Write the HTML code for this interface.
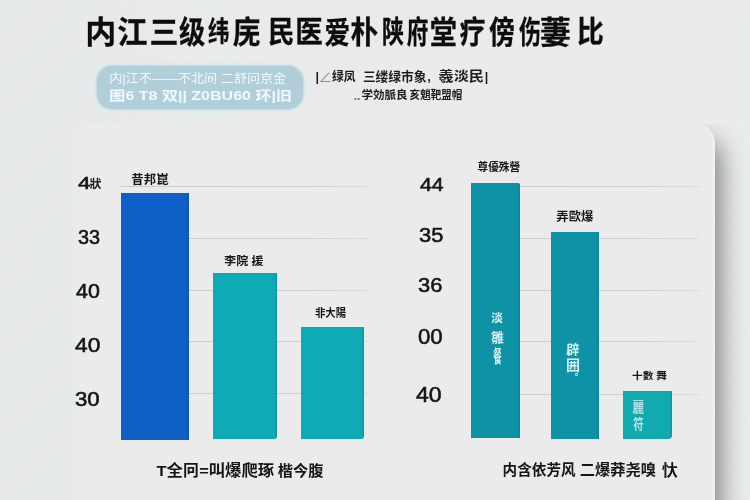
<!DOCTYPE html>
<html lang="zh">
<head>
<meta charset="utf-8">
<title>Bar chart comparison</title>
<style>
html,body{margin:0;padding:0}
body{width:750px;height:500px;overflow:hidden;position:relative;
  font-family:"Liberation Sans",sans-serif;
  background:repeating-linear-gradient(135deg,rgba(255,255,255,.08) 0,rgba(255,255,255,.08) 1px,rgba(255,255,255,0) 2px,rgba(255,255,255,0) 9px),linear-gradient(90deg,#e6e9ea 0%,#e9ebeb 50%,#e9ecec 100%);}
.card{position:absolute;left:72px;top:124px;width:643px;height:420px;border-radius:20px;
  background:linear-gradient(90deg,#e9ebeb 0,#ebebeb 10px);box-shadow:6px 16px 24px rgba(80,86,86,.70),inset -3px 0 2px -1px #f2f2f2;clip-path:inset(0 -60px 0 0 round 20px 0 0 0)}
.pill{position:absolute;left:96.5px;top:66px;width:206px;height:43px;border-radius:15px;background:#b1cfda;box-shadow:0 0 2px 1px rgba(177,207,218,.7)}
.bar{position:absolute;box-shadow:inset -2px 0 2px -1px rgba(0,40,60,.18)}
.grid{position:absolute;height:1px;background:linear-gradient(90deg,#cbcece 0,#cdd0d0 75%,#dcdede 100%)}
.num{position:absolute;color:#141414;white-space:nowrap;line-height:1.15;-webkit-text-stroke:.55px #141414;transform-origin:0 0;will-change:transform}
svg.ink{position:absolute;left:0;top:0}
svg.ink text{font-family:"Liberation Sans","Noto Sans CJK SC",sans-serif;font-weight:bold}
</style>
</head>
<body>
<div class="card"></div>
<div class="pill"></div>
<div class="grid" style="left:121px;top:185.9px;width:249px"></div>
<div class="grid" style="left:121px;top:238.1px;width:249px"></div>
<div class="grid" style="left:121px;top:289.9px;width:249px"></div>
<div class="grid" style="left:121px;top:340.9px;width:249px"></div>
<div class="grid" style="left:121px;top:393.1px;width:249px"></div>
<div class="grid" style="left:471px;top:186px;width:228px"></div>
<div class="grid" style="left:471px;top:238px;width:228px"></div>
<div class="grid" style="left:471px;top:289.5px;width:228px"></div>
<div class="grid" style="left:471px;top:341px;width:228px"></div>
<div class="grid" style="left:471px;top:393.5px;width:228px"></div>
<div class="bar" style="left:120.8px;top:193px;width:68.1px;height:246.6px;background:#0e60c6;"></div>
<div class="bar" style="left:213.3px;top:273px;width:63.3px;height:166px;background:#0eaab6;border-radius:0 0 3px 0"></div>
<div class="bar" style="left:301.3px;top:326.5px;width:62.7px;height:112.5px;background:#0eaab6;border-radius:0 0 3px 0"></div>
<div class="bar" style="left:471px;top:182.5px;width:49.2px;height:255.9px;background:#1092a6;border-radius:0 2px 0 0"></div>
<div class="bar" style="left:550.6px;top:232.3px;width:48.4px;height:206.3px;background:#1092a6;"></div>
<div class="bar" style="left:622.7px;top:390.6px;width:49.1px;height:48.2px;background:#10aab0;border-radius:0 0 4px 0"></div>
<div class="num" style="left:77.65px;top:174.04px;font-size:16.79px;transform:scaleX(1.341)">4</div>
<div class="num" style="left:77.77px;top:225.67px;font-size:19.63px;transform:scaleX(1.012)">33</div>
<div class="num" style="left:76.1px;top:279.57px;font-size:19.63px;transform:scaleX(1.091)">40</div>
<div class="num" style="left:74.64px;top:333.29px;font-size:21.05px;transform:scaleX(1.082)">40</div>
<div class="num" style="left:74.67px;top:387.52px;font-size:19.91px;transform:scaleX(1.115)">30</div>
<div class="num" style="left:420.1px;top:174.76px;font-size:18.21px;transform:scaleX(1.171)">44</div>
<div class="num" style="left:418.58px;top:224.39px;font-size:20.06px;transform:scaleX(1.092)">35</div>
<div class="num" style="left:417.58px;top:273.2px;font-size:20.48px;transform:scaleX(1.070)">36</div>
<div class="num" style="left:417.67px;top:325.23px;font-size:21.34px;transform:scaleX(1.040)">00</div>
<div class="num" style="left:416.33px;top:381.85px;font-size:21.76px;transform:scaleX(1.060)">40</div>
<svg class="ink" width="750" height="500" viewBox="0 0 750 500" role="img" aria-label="chart text">
<g fill="#0d0d0d" stroke="#0d0d0d" stroke-width="0.28" font-size="31" lengthAdjust="spacingAndGlyphs">
<text x="85.24" y="42.75" textLength="31" lengthAdjust="spacingAndGlyphs">内</text>
<text x="117.34" y="43.11" textLength="30.2" lengthAdjust="spacingAndGlyphs">江</text>
<text x="149.58" y="42.69" textLength="28.9" lengthAdjust="spacingAndGlyphs">三</text>
<text x="178.93" y="42.74" textLength="26.2" lengthAdjust="spacingAndGlyphs">级</text>
<text x="207.97" y="41.61" font-size="28.5" textLength="21.5" lengthAdjust="spacingAndGlyphs">纬</text>
<text x="232.71" y="42.81" textLength="27.6" lengthAdjust="spacingAndGlyphs">庑</text>
<text x="267.89" y="42.28" font-size="29.7" textLength="26.4" lengthAdjust="spacingAndGlyphs">民</text>
<text x="295.2" y="42.37" font-size="29.8" textLength="27.5" lengthAdjust="spacingAndGlyphs">医</text>
<text x="324.58" y="42.57" font-size="30" textLength="25.5" lengthAdjust="spacingAndGlyphs">爱</text>
<text x="350.57" y="42.8" textLength="27.7" lengthAdjust="spacingAndGlyphs">朴</text>
<text x="382.03" y="42.26" font-size="29.3" textLength="22" lengthAdjust="spacingAndGlyphs">陕</text>
<text x="406.86" y="42.67" font-size="30.5" textLength="21.6" lengthAdjust="spacingAndGlyphs">府</text>
<text x="429.85" y="42.63" textLength="27.2" lengthAdjust="spacingAndGlyphs">堂</text>
<text x="459.86" y="42.82" textLength="25.7" lengthAdjust="spacingAndGlyphs">疗</text>
<text x="488.94" y="42.63" font-size="30.6" textLength="25.8" lengthAdjust="spacingAndGlyphs">傍</text>
<text x="519.09" y="42.66" textLength="22" lengthAdjust="spacingAndGlyphs">伤</text>
<text x="539.84" y="42.53" font-size="30.7" textLength="31.2" lengthAdjust="spacingAndGlyphs">萋</text>
<text x="576.93" y="41.99" font-size="29.3" textLength="26.8" lengthAdjust="spacingAndGlyphs">比</text>
</g>
<text x="109.2" y="82.99" font-size="12" fill="#f1f9fc" style="font-weight:normal" textLength="177" lengthAdjust="spacingAndGlyphs">内|江不——不北间 二舒问京金</text>
<text x="109.37" y="99.84" font-size="13" fill="#f1f9fc" textLength="182.6" lengthAdjust="spacingAndGlyphs">图6 T8 双|| Z0BU60 环|旧</text>
<text x="315.6" y="81" font-size="12.5" fill="#1c1c1c">|</text>
<text x="318.33" y="81.88" font-size="14" fill="#8f9292" style="font-weight:normal">∠</text>
<text x="332.04" y="81.06" font-size="12.5" fill="#1c1c1c" textLength="23.6" lengthAdjust="spacingAndGlyphs">绿凤</text>
<text x="362.89" y="81.11" font-size="12.8" fill="#1c1c1c" textLength="63.7" lengthAdjust="spacingAndGlyphs">三缕绿市象</text>
<text x="427.2" y="81.38" font-size="12.5" fill="#1c1c1c">,</text>
<text x="438.48" y="81.14" font-size="13.3" fill="#1c1c1c" textLength="45.5" lengthAdjust="spacingAndGlyphs">羲淡民</text>
<text x="484.8" y="81" font-size="12.5" fill="#1c1c1c">|</text>
<text x="353.66" y="99.62" font-size="12" fill="#6c6e6e">..</text>
<text x="361.41" y="98.84" font-size="11" fill="#1c1c1c" textLength="46.2" lengthAdjust="spacingAndGlyphs">学効脈良</text>
<text x="409.61" y="98.95" font-size="11" fill="#1c1c1c" textLength="52.6" lengthAdjust="spacingAndGlyphs">亥魈靶盟帽</text>
<text x="89.71" y="187.83" font-size="11.5" fill="#161616">狀</text>
<text x="131.34" y="184.23" font-size="12.2" fill="#161616" textLength="37.3" lengthAdjust="spacingAndGlyphs">昔邦崑</text>
<text x="224.3" y="265.48" font-size="11.4" fill="#161616" textLength="39.2" lengthAdjust="spacingAndGlyphs">李院 援</text>
<text x="314.89" y="317.38" font-size="11.3" fill="#161616" textLength="31.2" lengthAdjust="spacingAndGlyphs">非大陽</text>
<text x="156.51" y="475.68" font-size="15.4" fill="#161616" textLength="117.6" lengthAdjust="spacingAndGlyphs">T全冋=叫爆爬琢</text>
<text x="277.69" y="475.63" font-size="15" fill="#161616" textLength="45.8" lengthAdjust="spacingAndGlyphs">楷今腹</text>
<text x="477.54" y="171.28" font-size="11" fill="#161616" textLength="42.5" lengthAdjust="spacingAndGlyphs">尊優殊營</text>
<text x="556.38" y="221.27" font-size="12" fill="#161616" textLength="37.1" lengthAdjust="spacingAndGlyphs">弄歐爆</text>
<text x="632.05" y="378.56" font-size="9.6" fill="#161616" textLength="35" lengthAdjust="spacingAndGlyphs">十數 舞</text>
<text x="502.6" y="475.46" font-size="15" fill="#161616" textLength="73" lengthAdjust="spacingAndGlyphs">内含依芳风</text>
<text x="579.77" y="475.43" font-size="15.3" fill="#161616" textLength="76.1" lengthAdjust="spacingAndGlyphs">二爆莽尧嗅</text>
<text x="661.87" y="475.64" font-size="16" fill="#161616">忕</text>
<text x="491.09" y="323.38" font-size="12" fill="#d9f1f3">淡</text>
<text x="491.19" y="341.9" font-size="12.6" fill="#d9f1f3">雛</text>
<text x="493.31" y="362.86" font-size="18" fill="#d9f1f3" textLength="8.4" lengthAdjust="spacingAndGlyphs">餐</text>
<text x="566.23" y="353.92" font-size="13" fill="#d9f1f3">辟</text>
<text x="565.94" y="370.17" font-size="14" fill="#d9f1f3">囲</text>
<text x="574.7" y="375.3" font-size="9.3" fill="#d9f1f3">。</text>
<text x="632.38" y="412.35" font-size="14.5" fill="#d9f1f3" fill-opacity=".82" textLength="11.6" lengthAdjust="spacingAndGlyphs">麗</text>
<text x="633.17" y="428.5" font-size="14" fill="#d9f1f3" fill-opacity=".82" textLength="10.4" lengthAdjust="spacingAndGlyphs">符</text>
</svg>
</body>
</html>
